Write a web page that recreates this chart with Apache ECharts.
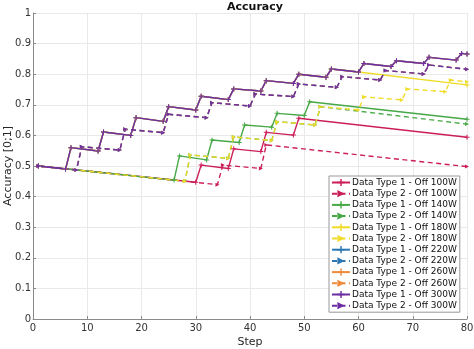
<!DOCTYPE html>
<html><head><meta charset="utf-8">
<script src="https://cdn.jsdelivr.net/npm/echarts@6/dist/echarts.min.js"></script>
<style>html,body{margin:0;padding:0;background:#fff}#c{width:474px;height:349px}</style>
</head><body><div id="c"></div>
<script>
// Breakpoints [step, accuracy]
const red1 = [[1,0.500],[30,0.447],[31,0.503],[36,0.492],[37,0.556],[42,0.547],[43,0.610],[48,0.601],[49,0.656],[80,0.594]];
const red2 = [[1,0.500],[34,0.439],[35,0.503],[42,0.492],[43,0.569],[80,0.498]];
const green1 = [[1,0.500],[26,0.454],[27,0.533],[32,0.520],[33,0.585],[38,0.577],[39,0.634],[44,0.627],[45,0.672],[50,0.665],[51,0.710],[80,0.653]];
const green2 = [[1,0.500],[28,0.450],[29,0.536],[36,0.525],[37,0.595],[44,0.583],[45,0.645],[52,0.634],[53,0.694],[80,0.637]];
const yellow1 = [[1,0.500],[6,0.490],[7,0.560],[12,0.549],[13,0.611],[18,0.600],[19,0.658],[24,0.646],[25,0.694],[30,0.683],[31,0.728],[36,0.717],[37,0.752],[42,0.745],[43,0.779],[48,0.770],[49,0.800],[54,0.790],[55,0.817],[60,0.807],[80,0.765]];
const yellow2 = [[1,0.500],[28,0.450],[29,0.536],[36,0.525],[37,0.595],[44,0.583],[45,0.645],[52,0.634],[53,0.694],[60,0.683],[61,0.726],[68,0.716],[69,0.752],[76,0.743],[77,0.781],[80,0.775]];
const blue1 = [[1,0.500],[6,0.490],[7,0.560],[12,0.549],[13,0.611],[18,0.600],[19,0.658],[24,0.646],[25,0.694],[30,0.683],[31,0.728],[36,0.717],[37,0.752],[42,0.745],[43,0.779],[48,0.770],[49,0.800],[54,0.790],[55,0.817],[60,0.807],[61,0.835],[66,0.825],[67,0.844],[72,0.835],[73,0.855],[78,0.846],[79,0.868],[80,0.866]];
const blue2 = [[1,0.500],[8,0.487],[9,0.563],[16,0.552],[17,0.620],[24,0.609],[25,0.669],[32,0.658],[33,0.707],[40,0.696],[41,0.735],[48,0.727],[49,0.768],[56,0.757],[57,0.792],[64,0.781],[65,0.812],[72,0.801],[73,0.830],[80,0.816]];
const orange1 = [[1,0.500],[6,0.490],[7,0.560],[12,0.549],[13,0.611],[18,0.600],[19,0.658],[24,0.646],[25,0.694],[30,0.683],[31,0.728],[36,0.717],[37,0.752],[42,0.745],[43,0.779],[48,0.770],[49,0.800],[54,0.790],[55,0.817],[60,0.807],[61,0.835],[66,0.825],[67,0.844],[72,0.835],[73,0.855],[78,0.846],[79,0.868],[80,0.866]];
const orange2 = [[1,0.500],[8,0.487],[9,0.563],[16,0.552],[17,0.620],[24,0.609],[25,0.669],[32,0.658],[33,0.707],[40,0.696],[41,0.735],[48,0.727],[49,0.768],[56,0.757],[57,0.792],[64,0.781],[65,0.812],[72,0.801],[73,0.830],[80,0.816]];
const purple1 = [[1,0.500],[6,0.490],[7,0.560],[12,0.549],[13,0.611],[18,0.600],[19,0.658],[24,0.646],[25,0.694],[30,0.683],[31,0.728],[36,0.717],[37,0.752],[42,0.745],[43,0.779],[48,0.770],[49,0.800],[54,0.790],[55,0.817],[60,0.807],[61,0.835],[66,0.825],[67,0.844],[72,0.835],[73,0.855],[78,0.846],[79,0.868],[80,0.866]];
const purple2 = [[1,0.500],[8,0.487],[9,0.563],[16,0.552],[17,0.620],[24,0.609],[25,0.669],[32,0.658],[33,0.707],[40,0.696],[41,0.735],[48,0.727],[49,0.768],[56,0.757],[57,0.792],[64,0.781],[65,0.812],[72,0.801],[73,0.830],[80,0.816]];

const seriesNames = ['Data Type 1 - Off 100W','Data Type 2 - Off 100W','Data Type 1 - Off 140W','Data Type 2 - Off 140W','Data Type 1 - Off 180W','Data Type 2 - Off 180W','Data Type 1 - Off 220W','Data Type 2 - Off 220W','Data Type 1 - Off 260W','Data Type 2 - Off 260W','Data Type 1 - Off 300W','Data Type 2 - Off 300W'];
const seriesData = [red1, red2, green1, green2, yellow1, yellow2, blue1, blue2, orange1, orange2, purple1, purple2];
const colors = ['#cc1f5a','#cc1f5a','#46a846','#46a846','#f0dc28','#f0dc28','#2c78b4','#2c78b4','#ee8a3a','#ee8a3a','#6d2ea3','#6d2ea3'];

const plusSym = 'path://M4,0H6V4H10V6H6V10H4V6H0V4H4Z';
const triSym = 'path://M0,0L10,5L0,10Z';
const font = 'DejaVu Sans';

const series = seriesNames.map((n, i) => {
  const dashed = i % 2 === 1;
  return {
    name: n, type: 'line', data: seriesData[i],
    symbol: dashed ? triSym : plusSym,
    symbolSize: dashed ? [4,4] : [5,5],
    showSymbol: true,
    lineStyle: { color: colors[i], width: 1.4, type: dashed ? [5,3.5] : 'solid' },
    itemStyle: { color: colors[i] },
    emphasis: { disabled: true },
    animation: false
  };
});

const chart = echarts.init(document.getElementById('c'));
chart.setOption({
  animation: false,
  title: { text: 'Accuracy', left: 250, textAlign: 'center', top: -3,
    textStyle: { fontFamily: font, fontSize: 11, fontWeight: 'bold', color: '#111' } },
  grid: { left: 33, right: 7, top: 13, bottom: 30, containLabel: false, outerBoundsMode: 'none' },
  xAxis: { type: 'value', min: 0, max: 80, interval: 10,
    name: 'Step', nameLocation: 'middle', nameGap: 18, nameMoveOverlap: false,
    nameTextStyle: { fontFamily: font, fontSize: 11, color: '#262626' },
    axisLine: { lineStyle: { color: '#8a8a8a', width: 1 } },
    axisTick: { inside: true, length: 3, lineStyle: { color: '#8a8a8a' } },
    axisLabel: { fontFamily: font, fontSize: 10, color: '#333', margin: 4 },
    splitLine: { lineStyle: { color: '#e9e9e9', width: 1 } } },
  yAxis: { type: 'value', min: 0, max: 1, interval: 0.1,
    name: 'Accuracy [0;1]', nameLocation: 'middle', nameGap: 19, nameMoveOverlap: false,
    nameTextStyle: { fontFamily: font, fontSize: 11, color: '#262626' },
    axisLine: { show: true, lineStyle: { color: '#8a8a8a', width: 1 } },
    axisTick: { show: true, inside: true, length: 3, lineStyle: { color: '#8a8a8a' } },
    axisLabel: { fontFamily: font, fontSize: 10, color: '#333', margin: 2 },
    splitLine: { lineStyle: { color: '#e9e9e9', width: 1 } } },
  legend: { orient: 'vertical', left: 329, top: 176, data: seriesNames,
    itemWidth: 18, itemHeight: 9, itemGap: 2.2, padding: [2, 3, 2, 2],
    backgroundColor: '#fff', borderColor: '#999', borderWidth: 1,
    textStyle: { fontFamily: font, fontSize: 9, lineHeight: 9, color: '#111', padding: [0,0,0,-3] } },
  series: series
});
</script></body></html>
